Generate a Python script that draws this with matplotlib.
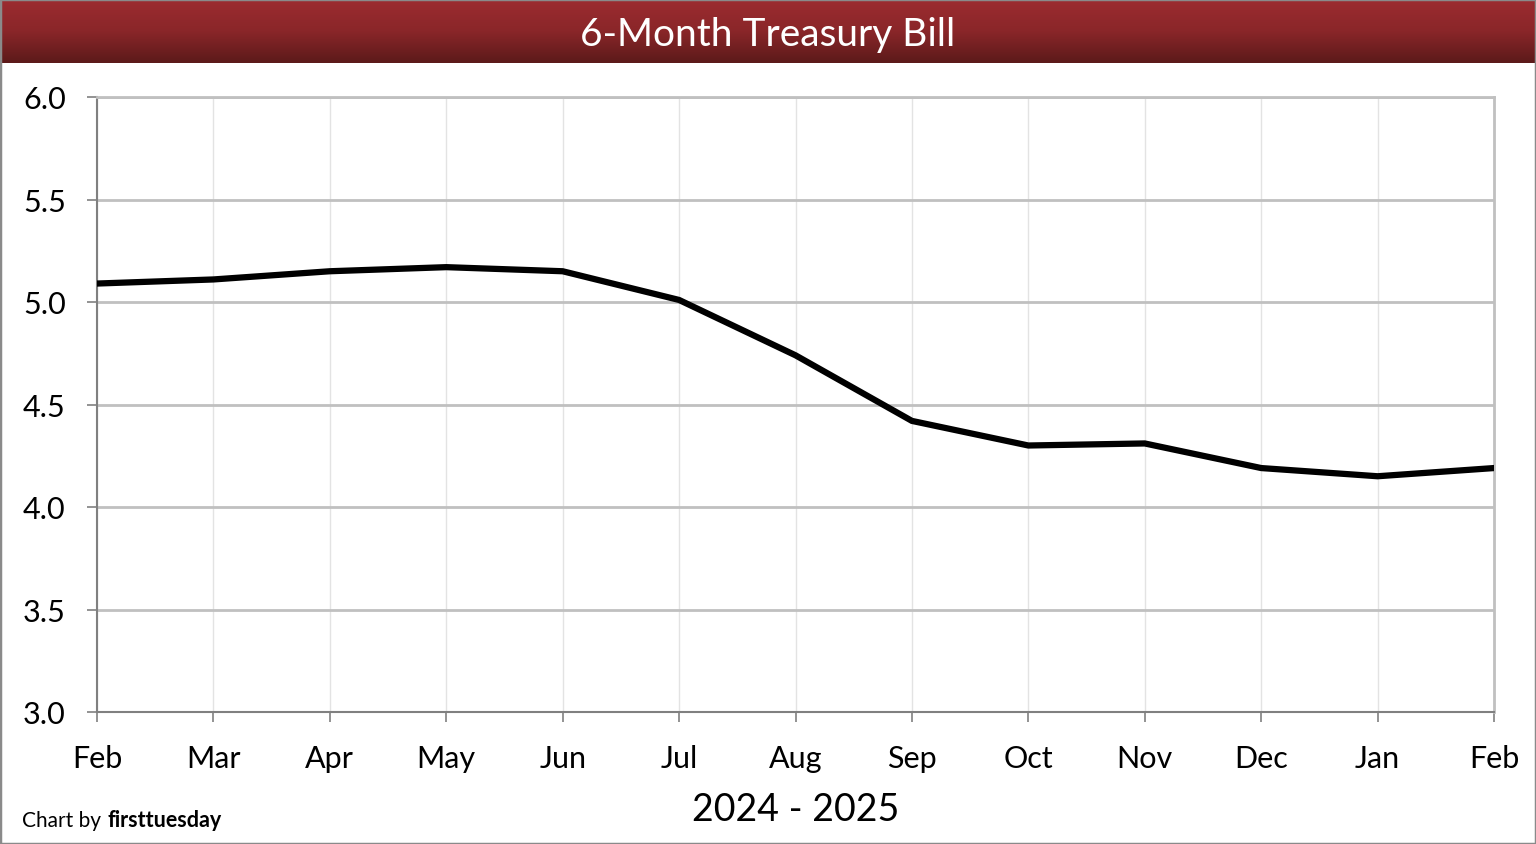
import numpy as np
import matplotlib
matplotlib.use('Agg')
import matplotlib.pyplot as plt
from matplotlib.colors import LinearSegmentedColormap
from matplotlib.patches import Rectangle

plt.rcParams['font.family'] = ['Lato', 'DejaVu Sans']

# data
months = ['Feb', 'Mar', 'Apr', 'May', 'Jun', 'Jul', 'Aug', 'Sep', 'Oct', 'Nov', 'Dec', 'Jan', 'Feb']
rates = [5.09, 5.11, 5.15, 5.17, 5.15, 5.01, 4.74, 4.42, 4.30, 4.31, 4.19, 4.15, 4.19]
yticks = [3.0, 3.5, 4.0, 4.5, 5.0, 5.5, 6.0]

W, H = 1536, 845
fig = plt.figure(figsize=(W/100, H/100), dpi=100)

# title bar with gradient
tax = fig.add_axes([0, 1-64/H, 1, 64/H])
cmap = LinearSegmentedColormap.from_list('bar', ['#9c2c30', '#8a2629', '#5c1a1a'])
tax.imshow(np.linspace(0, 1, 100).reshape(-1, 1), aspect='auto', cmap=cmap, extent=[0, 1, 0, 1])
tax.set_xlim(0, 1); tax.set_ylim(0, 1)
tax.axis('off')
tax.text(0.5, 0.46, '6-Month Treasury Bill', color='white', fontsize=28, ha='center', va='center')

# plot area
ax = fig.add_axes([97/W, 1-713/H, (1494-97)/W, (713-98)/H])
x = np.arange(len(months))
ax.plot(x, rates, color='black', lw=4.5, solid_joinstyle='miter', zorder=3)
ax.set_xlim(0, len(months)-1)
ax.set_ylim(3.0, 6.0)
ax.set_yticks(yticks)
ax.set_yticklabels([f'{v:.1f}' for v in yticks], fontsize=22)
ax.set_xticks(x)
ax.set_xticklabels(months, fontsize=22)
ax.grid(axis='y', color='#c0c0c0', lw=2)
ax.grid(axis='x', color='#e3e3e3', lw=1)
ax.set_axisbelow(True)
for s in ['top', 'right']:
    ax.spines[s].set_color('#c0c0c0')
    ax.spines[s].set_linewidth(2)
ax.spines['left'].set_color('#808080')
ax.spines['bottom'].set_color('#808080')
ax.spines['left'].set_linewidth(1.5)
ax.spines['bottom'].set_linewidth(1.5)
ax.tick_params(axis='both', direction='out', color='#808080', length=7.5, width=1.2)
ax.tick_params(axis='x', pad=15.5)
ax.tick_params(axis='y', pad=15)
ax.set_xlabel('2024 - 2025', fontsize=27, labelpad=14)

fig.text(22/W, 1-821/H, 'Chart by', fontsize=15, va='center', ha='left')
fig.text(108/W, 1-821/H, 'firsttuesday', fontsize=15.5, va='center', ha='left', fontweight='bold')

# outer border
fig.patches.append(Rectangle((0, 0), 1, 1, transform=fig.transFigure, fill=False,
                             edgecolor='#8a8a8a', lw=2.5, zorder=10))

fig.savefig('out.png', dpi=100)
